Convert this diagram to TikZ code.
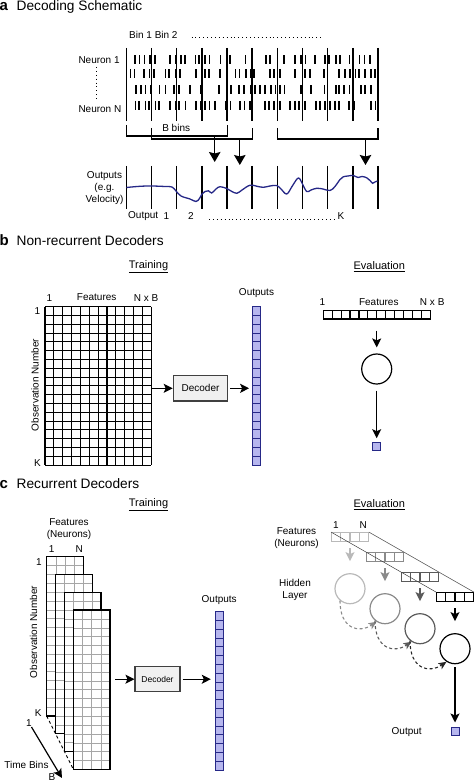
\documentclass[tikz,border=0pt]{standalone}
\usepackage{fontspec}
\setmainfont{Liberation Sans}
\usetikzlibrary{arrows.meta,positioning}

\definecolor{navy}{RGB}{38,40,135}
\definecolor{lav}{RGB}{182,182,238}
\definecolor{boxgray}{RGB}{240,240,240}
\definecolor{g1}{RGB}{185,185,185}
\definecolor{g2}{RGB}{138,138,138}
\definecolor{g3}{RGB}{90,90,90}

\tikzset{
    tag/.style={ font=\fontsize{15}{15}\selectfont\bfseries, anchor=base west, inner sep=0pt },
    title/.style={ font=\fontsize{13.7}{16}\selectfont, anchor=base west, inner sep=0pt },
    head/.style={ font=\fontsize{11}{13}\selectfont, inner sep=0pt },
    lbl/.style={ font=\fontsize{10}{12}\selectfont, inner sep=0pt },
    binline/.style={ line width=1.4pt },
    spike/.style={ line width=1.7pt },
    bracket/.style={ line width=1.3pt },
    dots/.style={ line width=0.9pt, dash pattern=on 0.9pt off 3pt },
    cell/.style={ line width=1.15pt },
    fine/.style={ line width=0.6pt, black!35 },
    frame/.style={ line width=1.3pt },
    decoder/.style={ draw=black!75, fill=boxgray, line width=1.1pt, minimum width=54.5pt, minimum height=25.3pt, inner sep=0pt, font=\fontsize{10}{12}\selectfont },
    outcell/.style={ draw=navy, fill=lav, line width=1pt },
    neuron/.style={ circle, line width=1.2pt, minimum size=30pt, inner sep=0pt },
    bigarr/.style={ line width=1.3pt, -{Stealth[length=10pt,width=11.5pt,inset=1.5pt]} },
    arr/.style={ line width=1.3pt, -{Stealth[length=9pt,width=9pt,inset=2pt]} },
    recur/.style={ line width=1.1pt, dash pattern=on 3pt off 2.5pt, -{Stealth[length=8pt,width=7pt,inset=2pt]} }
}

\begin{document}
\begin{tikzpicture}[x=1pt, y=-1pt]
        %\draw[step=10, very thin, gray] (0,0) grid (474,783);
        \useasboundingbox (0,0) rectangle (474,783);

        % ---- a: decoding schematic
        \node[tag] (tagA) at (-0.5,11) {a};
        \node[title] (titA) at (16.5,11) {Decoding Schematic};

        \node[lbl, anchor=west] (bins) at (129,35) {Bin 1 Bin 2};
        \draw[dots] (191.5,37) -- (322,37);
        \node[lbl, anchor=west] (n1) at (78.3,60) {Neuron 1};
        \node[lbl, anchor=west] (nN) at (78.3,109) {Neuron N};
        \draw[dots] (96.7,67) -- (96.7,102);

        \foreach \i in {0,...,10}
            \draw[binline] ({126.3+25.17*\i},48) -- ++(0,73);

        \pgfmathsetseed{11}
        \foreach \r in {60,74,90,105.5}{
            \foreach \s in {130,135,...,375}{
                \pgfmathrandominteger{\keep}{0}{2}
                \pgfmathsetmacro{\jx}{\s+rand}
                \ifnum\keep>0
                    \draw[spike] (\jx,\r-4.5) -- ++(0,9);
                \fi
            }
        }

        % windows of B bins
        \draw[bracket] (126.3,125) -- (126.3,136) -- (227.3,136) -- (227.3,125);
        \draw[bracket] (151.5,128) -- (151.5,139) -- (252.3,139) -- (252.3,128);
        \draw[bracket] (277.3,128) -- (277.3,139) -- (378,139) -- (378,128);
        \node[lbl] (bb) at (176.2,128.3) {B bins};

        \coordinate (w1) at (214.7,136);
        \coordinate (w2) at (239.8,139);
        \coordinate (w3) at (365.5,139);
        \coordinate (o1) at (214.7,162);
        \coordinate (o2) at (239.8,165);
        \coordinate (o3) at (365.5,165);
        \draw[bigarr] (w1) -- (o1);
        \draw[bigarr] (w2) -- (o2);
        \draw[bigarr] (w3) -- (o3);

        \foreach \i in {0,...,10}
            \draw[binline] ({126.3+25.17*\i},166) -- ++(0,43.5);
        \draw[navy, line width=1.3pt] plot[smooth, tension=0.6] coordinates {
            (126.3,187.5) (140,186.3) (151.7,186) (165,186.5) (172,187) (176,191)
            (181,196) (190,199) (196,201.5) (199.5,198.5) (202,194) (205,191.5)
            (208.5,190.8) (211.7,193) (216,189) (220,186.7) (226.7,188.5) (231,191)
            (236.7,193.3) (242,190) (250,185.2) (257,186.3) (263.3,187.3) (270,186)
            (276.7,185.5) (281,189) (286.7,194) (292,186.5) (297,179) (299.5,178.5)
            (302,183) (306.7,191.5) (311,190) (316.7,188.3) (323,189) (330,190.5)
            (335,186.5) (340,179.5) (343.3,176.8) (348,176) (353.3,175.5) (358,177.5)
            (362,176.5) (366.7,177.8) (370,180.5) (372.7,183.3) (375,182) (377.5,181)};
        \node[lbl, align=center] (outA) at (104.5,188) {Outputs\\(e.g.\\Velocity)};
        \node[lbl, anchor=west] (ok1) at (128,216) {Output};
        \node[lbl] (ok2) at (166.5,216) {1};
        \node[lbl] (ok3) at (191,216) {2};
        \draw[dots] (209,219.5) -- (335,219.5);
        \node[lbl] (okK) at (341,216) {K};

        % ---- b: non-recurrent decoders
        \node[tag] (tagB) at (-0.5,246) {b};
        \node[title] (titB) at (16.5,246) {Non-recurrent Decoders};
        \node[head] (trB) at (148.5,267) {\underline{Training}};
        \node[head] (evB) at (379.3,267) {\underline{Evaluation}};

        \foreach \i in {0,...,12}
            \draw[cell] ({45+8.85*\i},306.7) -- ++(0,158.4);
        \foreach \j in {0,...,18}
            \draw[cell] (45,{306.7+8.8*\j}) -- ++(106.2,0);
        \node[inner sep=0pt, minimum width=106.2pt, minimum height=158.4pt] (matB) at (98.1,385.9) {};
        \node[lbl] (fB1) at (49.3,298.5) {1};
        \node[lbl] (fB) at (96.7,297) {Features};
        \node[lbl] (fBN) at (146,298.5) {N x B};
        \node[lbl] (obB1) at (37.5,311.5) {1};
        \node[lbl] (obBK) at (37.5,463.5) {K};
        \node[lbl, rotate=90] (obB) at (35,385) {Observation Number};

        \node[decoder] (decB) at (200.5,388.3) {Decoder};
        \foreach \j in {0,...,17}
            \draw[outcell] (252.3,{306.7+8.8*\j}) rectangle ++(8.3,8.8);
        \node[inner sep=0pt, minimum width=8.3pt, minimum height=158.4pt] (outB) at (256.45,385.9) {};
        \node[lbl] (outBl) at (256.5,293.3) {Outputs};
        \draw[arr, shorten <=1pt] (matB.east |- decB.west) -- (decB.west);
        \draw[arr, shorten <=2pt, shorten >=3pt] (decB.east) -- (decB.east -| outB.west);

        % evaluation
        \node[lbl] (eB1) at (322.3,302.3) {1};
        \node[lbl] (eB) at (378.8,302.3) {Features};
        \node[lbl] (eBN) at (432.2,302.3) {N x B};
        \node[draw, line width=1.2pt, minimum width=106.8pt, minimum height=8.3pt, inner sep=0pt] (rowB) at (376.7,314.85) {};
        \foreach \i in {1,...,11}
            \draw[line width=1.2pt] ({323.3+8.9*\i},310.7) -- ++(0,8.3);
        \node[neuron, draw] (hB) at (376.7,369) {};
        \node[outcell, minimum size=8pt, inner sep=0pt] (yB) at (376.7,446.7) {};
        \draw[arr] ([yshift=-11pt]rowB.south) -- ([yshift=6pt]hB.north);
        \draw[arr] ([yshift=-6pt]hB.south) -- ([yshift=4pt]yB.north);

        % ---- c: recurrent decoders
        \node[tag] (tagC) at (-0.5,488.3) {c};
        \node[title] (titC) at (16.5,488.3) {Recurrent Decoders};
        \node[head] (trC) at (148.5,505) {\underline{Training}};
        \node[head] (evC) at (379.3,504.5) {\underline{Evaluation}};

        \node[lbl, align=center] (fC) at (69,529) {Features\\(Neurons)};
        \node[lbl] (fC1) at (51.7,549.3) {1};
        \node[lbl] (fCN) at (79.3,549.3) {N};
        \foreach \k in {0,...,3}{
            \begin{scope}[shift={({8.9*\k},{17.8*\k})}]
                \fill[white] (46.7,556.7) rectangle ++(36.6,159.3);
                \foreach \i in {1,2,3}
                    \draw[fine] ({46.7+9.15*\i},556.7) -- ++(0,159.3);
                \foreach \j in {1,...,17}
                    \draw[fine] (46.7,{556.7+8.85*\j}) -- ++(36.6,0);
                \draw[frame] (46.7,556.7) rectangle ++(36.6,159.3);
            \end{scope}
        }
        \draw[line width=0.9pt, dash pattern=on 3pt off 2.5pt] (46.7,716) -- (73.4,769.4);
        \node[inner sep=0pt, minimum width=36.6pt, minimum height=159.3pt] (matC) at (91.7,689.75) {};
        \node[lbl] (obC1) at (39,561.7) {1};
        \node[lbl] (obCK) at (38.3,712.7) {K};
        \node[lbl, rotate=90] (obC) at (33.5,632) {Observation Number};

        \node[lbl] (tb1) at (29,722.7) {1};
        \node[lbl] (tbB) at (52,777) {B};
        \node[lbl] (tb) at (26.5,765) {Time Bins};
        \coordinate (tbs) at (31.5,727);
        \coordinate (tbe) at (62,778);
        \draw[arr, line width=1.2pt] (tbs) -- (tbe);

        \node[decoder, minimum width=45pt, minimum height=25pt, font=\fontsize{8.5}{10}\selectfont] (decC) at (157.5,679.2) {Decoder};
        \foreach \j in {0,...,17}
            \draw[outcell] (215,{611.7+8.8*\j}) rectangle ++(8.3,8.8);
        \node[inner sep=0pt, minimum width=8.3pt, minimum height=158.4pt] (outC) at (219.15,690.9) {};
        \node[lbl] (outCl) at (219.2,600) {Outputs};
        \draw[arr, shorten <=5pt] (matC.east |- decC.west) -- (decC.west);
        \draw[arr, shorten <=2pt, shorten >=4pt] (decC.east) -- (decC.east -| outC.west);

        % evaluation, unrolled in time
        \node[lbl, align=center] (fE) at (296.5,538) {Features\\(Neurons)};
        \node[lbl, align=center] (hid) at (295,590) {Hidden\\Layer};
        \node[lbl] (fE1) at (336,525) {1};
        \node[lbl] (fEN) at (363.3,525) {N};
        \foreach \k/\c in {0/g1,1/g2,2/g3,3/black}{
            \node[draw=\c, line width=1.2pt, minimum width=36.6pt, minimum height=9pt, inner sep=0pt] (r\k) at ({350+35*\k},{537.2+20*\k}) {};
            \foreach \j in {1,2,3}
                \draw[\c, line width=1.2pt] ({331.7+35*\k+9.15*\j},{532.7+20*\k}) -- ++(0,9);
            \node[neuron, draw=\c] (h\k) at ({350+35*\k},{588.7+20*\k}) {};
            \draw[arr, \c] ([yshift=-6pt]r\k.south) -- ([yshift=12pt]h\k.north);
        }
        \draw[line width=0.5pt, black!75] (r0.north west) -- (r3.north west);
        \draw[line width=0.5pt, black!75] (r0.north east) -- (r3.north east);
        \foreach \k/\c in {0/g2,1/g3,2/black!85}{
            \pgfmathtruncatemacro{\nx}{\k+1}
            \draw[recur, \c] (h\k.230) .. controls +(0,28) and +(-18,12) .. (h\nx.237);
        }
        \node[outcell, minimum size=8pt, inner sep=0pt] (yC) at (455,731) {};
        \node[lbl] (yCl) at (406.7,731.7) {Output};
        \draw[arr] ([yshift=-3pt]h3.south) -- ([yshift=4pt]yC.north);

\end{tikzpicture}
\end{document}
